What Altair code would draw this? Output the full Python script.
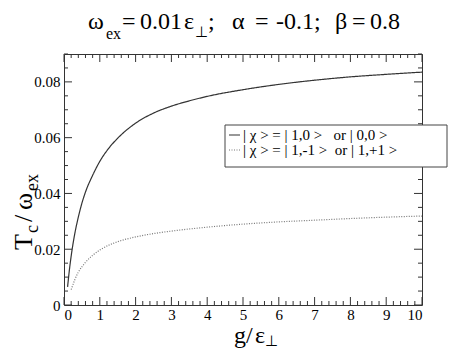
import altair as alt
import pandas as pd

# ---- data ----
solid_g = [0.1, 0.15, 0.2, 0.3, 0.4, 0.5, 0.6, 0.8, 1.0, 1.25, 1.5, 2.0, 2.5, 3.0, 3.5, 4.0, 5.0, 6.0, 7.0, 8.0, 9.0, 10.0]
solid_t = [0.0065, 0.0125, 0.0175, 0.0255, 0.0315, 0.0365, 0.0405, 0.0465, 0.0515, 0.0562, 0.0598, 0.0652, 0.0688, 0.0713, 0.0732, 0.0748, 0.0772, 0.0791, 0.0806, 0.0818, 0.0827, 0.0835]
dot_g = [0.2, 0.3, 0.4, 0.5, 0.6, 0.8, 1.0, 1.5, 2.0, 2.5, 3.0, 4.0, 5.0, 6.0, 7.0, 8.0, 9.0, 10.0]
dot_t = [0.0055, 0.009, 0.0118, 0.0137, 0.0153, 0.0178, 0.0197, 0.0227, 0.0244, 0.0256, 0.0265, 0.0279, 0.029, 0.0298, 0.0304, 0.031, 0.0315, 0.0319]

NB = "\u00a0"
label_solid = "| χ > = | 1,0 >" + NB * 3 + "or | 0,0 >"
label_dot = "| χ > = | 1,-1 >" + NB * 2 + "or | 1,+1 >"
series_labels = [label_solid, label_dot]
series_colors = ["#333333", "#777777"]

x_major = list(range(0, 11))
x_minor = [round(i * 0.2, 2) for i in range(0, 51) if i % 5 != 0]
y_major = [0.0, 0.02, 0.04, 0.06, 0.08]
y_minor = [round(i * 0.005, 3) for i in range(0, 19) if i % 4 != 0]

SERIF = "Liberation Serif"
W, H = 358, 251
OX, OY = 64, 54  # page position of the plot origin

df = pd.DataFrame(
    {"g": solid_g + dot_g,
     "t": solid_t + dot_t,
     "s": [label_solid] * len(solid_g) + [label_dot] * len(dot_g)}
)

xs = alt.Scale(domain=[0, 10], nice=False, zero=False)
ys = alt.Scale(domain=[0, 0.09], nice=False, zero=False)

x_axis = alt.Axis(values=x_major, title=None, domain=False, ticks=False, grid=False,
                  labelFont=SERIF, labelFontSize=15, labelColor="black", labelPadding=2)
y_axis = alt.Axis(values=y_major, title=None, domain=False, ticks=False, grid=False,
                  labelFont=SERIF, labelFontSize=15, labelColor="black", labelPadding=4,
                  labelExpr="datum.value == 0 ? '0' : format(datum.value, '.2f')")

lines = alt.Chart(df).mark_line(strokeWidth=1.2, interpolate="monotone").encode(
    x=alt.X("g:Q", scale=xs, axis=x_axis),
    y=alt.Y("t:Q", scale=ys, axis=y_axis),
    color=alt.Color("s:N", scale=alt.Scale(domain=series_labels, range=series_colors), legend=None),
    strokeDash=alt.StrokeDash("s:N", scale=alt.Scale(domain=series_labels, range=[[1, 0], [1, 1.5]]),
                              legend=None),
    order=alt.Order("g:Q"),
)


def tick_layer(vals, axis, length):
    d = pd.DataFrame({"v": vals})
    base = alt.Chart(d).mark_rule(color="#333333", strokeWidth=1)
    if axis == "x":
        bottom = base.encode(x=alt.X("v:Q", scale=xs, axis=x_axis),
                             y=alt.value(H - length), y2=alt.value(H))
        top = base.encode(x=alt.X("v:Q", scale=xs, axis=x_axis),
                          y=alt.value(0), y2=alt.value(length))
        return [bottom, top]
    left = base.encode(y=alt.Y("v:Q", scale=ys, axis=y_axis),
                       x=alt.value(0), x2=alt.value(length))
    right = base.encode(y=alt.Y("v:Q", scale=ys, axis=y_axis),
                        x=alt.value(W - length), x2=alt.value(W))
    return [left, right]


ticks = (tick_layer(x_major, "x", 8) + tick_layer(x_minor, "x", 4)
         + tick_layer(y_major, "y", 8) + tick_layer(y_minor, "y", 4))

dummy = pd.DataFrame({"a": [0]})


def txt(s, px, py, size, angle=0):
    return alt.Chart(dummy).mark_text(
        text=s, font=SERIF, fontSize=size, align="left", baseline="alphabetic",
        angle=angle, color="black"
    ).encode(x=alt.value(px - OX), y=alt.value(py - OY))


# ---- legend box (xmgrace style) ----
legend_box = alt.Chart(dummy).mark_rect(fill="white", stroke="#444444", strokeWidth=1).encode(
    x=alt.value(225 - OX), x2=alt.value(447 - OX), y=alt.value(125 - OY), y2=alt.value(167 - OY)
)
legend_items = []
for i, (lab, col, dash) in enumerate(zip(series_labels, series_colors, [[1, 0], [1, 1.5]])):
    cy = 135 + 15 * i
    legend_items.append(
        alt.Chart(dummy).mark_rule(color=col, strokeWidth=1.2, strokeDash=dash).encode(
            x=alt.value(229 - OX), x2=alt.value(240 - OX), y=alt.value(cy - OY)
        )
    )
    legend_items.append(txt(lab, 243, cy + 5, 15))

TB = 29
title_parts = [
    txt("ω", 88, TB, 24), txt("ex", 106, TB + 10, 16), txt("=", 122, TB, 24),
    txt("0.01", 140, TB, 24), txt("ε", 184, TB, 24), txt("⊥", 195, TB + 8, 15),
    txt(";", 208, TB, 24), txt("α", 232, TB, 24), txt("=", 255, TB, 24),
    txt("-0.1;", 276, TB, 24), txt("β", 335, TB, 24), txt("=", 352, TB, 24),
    txt("0.8", 370, TB, 24),
]

ytitle = [
    txt("T", 32, 250, 26, 270), txt("c", 38, 233, 18, 270), txt("/", 32, 222, 26, 270),
    txt("ω", 32, 210, 26, 270), txt("ex", 38, 191, 18, 270),
]

xtitle = [
    txt("g", 234, 343, 24), txt("/", 246, 343, 24), txt("ε", 255, 343, 24),
    txt("⊥", 265, 346, 15),
]

chart = alt.layer(lines, *ticks, legend_box, *legend_items, *title_parts, *ytitle, *xtitle).properties(
    width=W, height=H,
    autosize=alt.AutoSizeParams(type="none"),
    padding={"left": OX - 8, "top": OY - 8, "right": 44, "bottom": 45},
    background="white",
).configure_view(stroke="#333333", strokeWidth=1).configure_axis(
    labelFont=SERIF, labelFontSize=15, labelColor="black"
)

chart.save("out.html", embed_options={"renderer": "svg", "actions": False})
